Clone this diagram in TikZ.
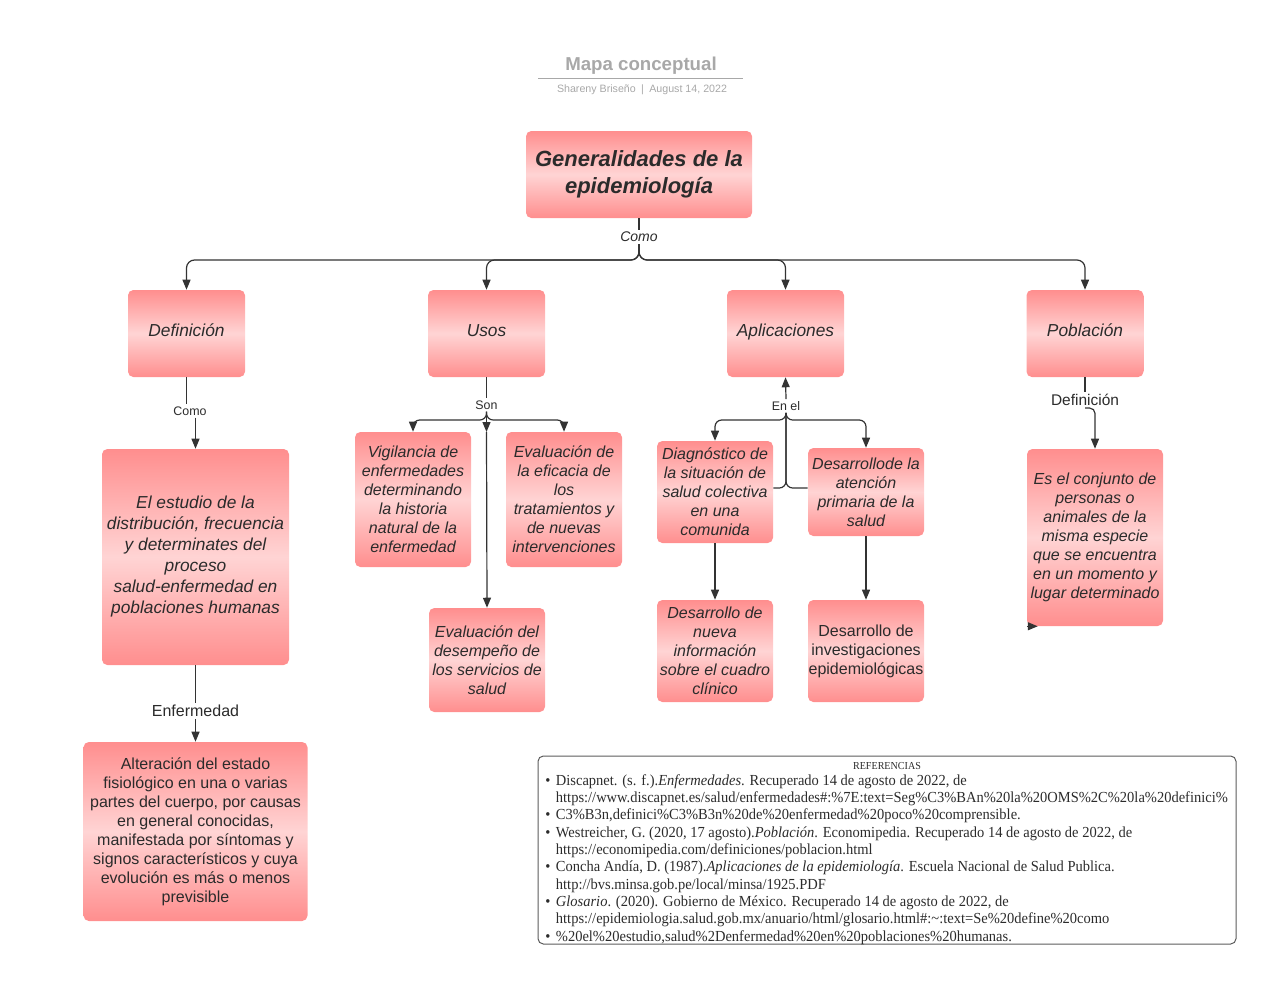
\documentclass[tikz,border=0pt]{standalone}
\usepackage{fontspec}
\setmainfont{Liberation Sans}
\newfontfamily\reffont[FakeStretch=0.946]{Liberation Serif}
\usepackage{xcolor}
\usetikzlibrary{arrows.meta}
\definecolor{boxedge}{HTML}{FF8E8E}
\definecolor{boxmid}{HTML}{FFD4D4}
\definecolor{ink}{HTML}{2B2B2B}
\definecolor{linegray}{HTML}{333333}
\definecolor{titlegray}{HTML}{A8A8A8}
\newcommand\refbul{\makebox[8pt][l]{\textbullet}}
\newcommand\refind{\hspace*{8pt}}

\begin{document}
\begin{tikzpicture}[x=0.75pt, y=-0.75pt,
  concept/.style={rounded corners=4pt, top color=boxedge, bottom color=boxedge, middle color=boxmid, text=ink, align=center, inner sep=0pt},
  arr/.style={-{Triangle[length=7.5pt,width=6pt]}, line width=0.9pt, draw=linegray},
  link/.style={line width=0.9pt, draw=linegray},
  lbl/.style={font=\fontsize{9.3}{11}\selectfont, text=ink, inner sep=1.5pt}]
\useasboundingbox (0,0) rectangle (1280,989);

% Title
\node[font=\bfseries\fontsize{14}{16}\selectfont, text=titlegray] (title) at (641,66) {Mapa conceptual};
\draw[titlegray, line width=0.75pt] (538,78) -- (743,78);
\node[font=\fontsize{8}{10}\selectfont, text=titlegray] (sub) at (642,90) {Shareny Briseño\enspace|\enspace August 14, 2022};

% Main concept
\node[concept, minimum width=169.5pt, minimum height=65.25pt, font=\bfseries\itshape\fontsize{16.5}{20}\selectfont] (gen) at (639,174.5) {Generalidades de la\\epidemiología};
\node[font=\itshape\fontsize{10.5}{12}\selectfont, text=ink, inner sep=1.5pt] (como) at (639,237) {Como};
\draw[link] (gen.south) -- (como.north);

% First level
\foreach \name/\x/\txt in {def/186.5/Definición, usos/486.5/Usos, apl/785.5/Aplicaciones, pob/1085/Población} {
  \node[concept, minimum width=87.75pt, minimum height=65.25pt, text height=10pt, text depth=6pt, font=\itshape\fontsize{13}{15}\selectfont] (\name) at (\x,333.5) {\txt};
  \draw[arr, rounded corners=6pt] (como.south) |- (\name.north |- 0,260) -- (\name.north);
}

% Definicion branch
\node[concept, minimum width=140.25pt, minimum height=162pt, font=\itshape\fontsize{13}{15.75}\selectfont] (estudio) at (195.5,557) {El estudio de la\\distribución, frecuencia\\y determinates del\\proceso\\salud-enfermedad en\\poblaciones humanas};
\node[lbl] (como2) at (190,411) {Como};
\draw[link] (def.south) -- (def.south |- como2.north);
\draw[arr] (estudio.north |- como2.south) -- (estudio.north);
\node[concept, minimum width=168pt, minimum height=134.25pt, font=\fontsize{12}{14.25}\selectfont] (alter) at (195.5,831.5) {Alteración del estado\\fisiológico en una o varias\\partes del cuerpo, por causas\\en general conocidas,\\manifestada por síntomas y\\signos característicos y cuya\\evolución es más o menos\\previsible};
\node[font=\fontsize{12}{14}\selectfont, text=ink, inner sep=1.5pt] (enf) at (195.5,711) {Enfermedad};
\draw[link] (estudio.south) -- (enf.north);
\draw[arr] (enf.south) -- (alter.north);

% Usos branch
\node[concept, minimum width=87pt, minimum height=101.25pt, font=\itshape\fontsize{12}{14.25}\selectfont] (vigil) at (413,499.5) {Vigilancia de\\enfermedades\\determinando\\la historia\\natural de la\\enfermedad};
\node[concept, minimum width=87pt, minimum height=101.25pt, font=\itshape\fontsize{12}{14.25}\selectfont] (efic) at (564,499.5) {Evaluación de\\la eficacia de\\los\\tratamientos y\\de nuevas\\intervenciones};
\node[concept, minimum width=87pt, minimum height=78pt, font=\itshape\fontsize{12}{14.25}\selectfont] (desemp) at (487,660) {Evaluación del\\desempeño de\\los servicios de\\salud};
\node[lbl] (son) at (486.5,405) {Son};
\coordinate (midson) at (486.5,432);
\draw[link] (usos.south) -- (son.north);
\draw[arr, rounded corners=5pt] (son.south) |- (vigil.north |- 0,420) -- (vigil.north);
\draw[arr, rounded corners=5pt] (son.south) |- (efic.north |- 0,420) -- (efic.north);
\draw[arr] (son.south) -- (midson);
\draw[arr] (midson) -- (desemp.north);

% Aplicaciones branch
\node[concept, minimum width=87pt, minimum height=76.5pt, font=\itshape\fontsize{12}{14.25}\selectfont] (diag) at (715,492) {Diagnóstico de\\la situación de\\salud colectiva\\en una\\comunida};
\node[concept, minimum width=87pt, minimum height=66pt, font=\itshape\fontsize{12}{14.25}\selectfont] (aten) at (866,492) {Desarrollode la\\atención\\primaria de la\\salud};
\node[concept, minimum width=87pt, minimum height=76.5pt, font=\itshape\fontsize{12}{14.25}\selectfont] (nueva) at (715,651) {Desarrollo de\\nueva\\información\\sobre el cuadro\\clínico};
\node[concept, minimum width=87pt, minimum height=76.5pt, font=\fontsize{12}{14.25}\selectfont] (invest) at (866,651) {Desarrollo de\\investigaciones\\epidemiológicas};
\node[lbl] (enel) at (786,406) {En el};
\draw[arr] (enel.north) -- (apl.south);
\draw[arr, rounded corners=5pt] (enel.south) |- (diag.north |- 0,420) -- (diag.north);
\draw[arr, rounded corners=5pt] (enel.south) |- (aten.north |- 0,420) -- (aten.north);
\draw[link, rounded corners=5pt] (diag.east |- 0,488) -| (enel.south);
\draw[link, rounded corners=5pt] (aten.west |- 0,488) -| (enel.south);
\draw[arr] (diag.south) -- (nueva.north);
\draw[arr] (aten.south) -- (invest.north);

% Poblacion branch
\node[concept, minimum width=102pt, minimum height=132.75pt, font=\itshape\fontsize{12}{14.25}\selectfont] (conj) at (1095,537.5) {Es el conjunto de\\personas o\\animales de la\\misma especie\\que se encuentra\\en un momento y\\lugar determinado};
\node[font=\fontsize{11.6}{13}\selectfont, text=ink, inner sep=1.5pt] (defl) at (1085,400) {Definición};
\draw[link] (pob.south) -- (defl.north);
\draw[arr, rounded corners=4pt] (defl.south) -| (conj.north);
\draw[arr] (conj.south west) -- ++(11,0);

% References
\draw[draw=linegray!80, line width=0.75pt, rounded corners=4pt] (538,756) rectangle (1236,944);
\node[font=\reffont\fontsize{8}{9}\selectfont, text=ink] (reftitle) at (887,766) {REFERENCIAS};
\node[anchor=north west, align=left, inner sep=0pt, text=ink, font=\reffont\fontsize{11.5}{13}\selectfont] (reflist) at (545,774) {%
\refbul Discapnet. (s. f.).\textit{Enfermedades}. Recuperado 14 de agosto de 2022, de\\
\refind https://www.discapnet.es/salud/enfermedades\#:\%7E:text=Seg\%C3\%BAn\%20la\%20OMS\%2C\%20la\%20definici\%\\
\refbul C3\%B3n,definici\%C3\%B3n\%20de\%20enfermedad\%20poco\%20comprensible.\\
\refbul Westreicher, G. (2020, 17 agosto).\textit{Población}. Economipedia. Recuperado 14 de agosto de 2022, de\\
\refind https://economipedia.com/definiciones/poblacion.html\\
\refbul Concha Andía, D. (1987).\textit{Aplicaciones de la epidemiología}. Escuela Nacional de Salud Publica.\\
\refind http://bvs.minsa.gob.pe/local/minsa/1925.PDF\\
\refbul \textit{Glosario}. (2020). Gobierno de México. Recuperado 14 de agosto de 2022, de\\
\refind https://epidemiologia.salud.gob.mx/anuario/html/glosario.html\#:\textasciitilde:text=Se\%20define\%20como\\
\refbul \%20el\%20estudio,salud\%2Denfermedad\%20en\%20poblaciones\%20humanas.};

\end{tikzpicture}
\end{document}
